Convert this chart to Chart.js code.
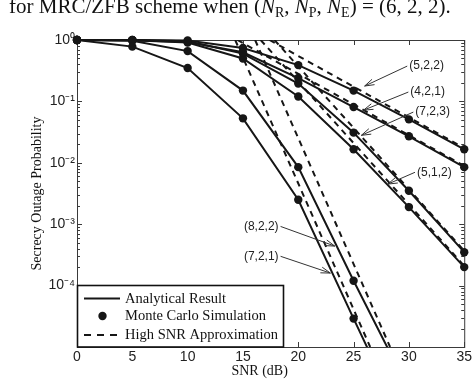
<!DOCTYPE html>
<html>
<head>
<meta charset="utf-8">
<script src="https://cdn.jsdelivr.net/npm/chart.js@4.4.0/dist/chart.umd.min.js"></script>
<style>
  html, body { margin: 0; padding: 0; background: #fff; }
</style>
</head>
<body>
<canvas id="myChart" width="474" height="381"></canvas>
<script>
// SNR (dB)
const snrDb = [0, 5, 10, 15, 20, 25, 30, 35];

// 해석 결과 (몬테카를로 점도 같은 값), (N_R, N_P, N_E) 별
const p721 = [1, 0.78, 0.35, 0.053, 0.0025, 2.9e-5, 3.6e-7, 4e-9];
const p822 = [1, 0.97, 0.66, 0.15, 0.0085, 1.2e-4, 2e-6, 3e-8];
const p421 = [1, 0.99, 0.93, 0.63, 0.24, 0.081, 0.027, 0.0085];
const p522 = [1, 1, 0.98, 0.74, 0.39, 0.15, 0.051, 0.0166];
const p512 = [1, 0.99, 0.91, 0.50, 0.12, 0.0166, 0.0019, 2.0e-4];
const p723 = [1, 1, 0.95, 0.60, 0.195, 0.031, 0.0035, 3.5e-4];

// 고 SNR 근사 (양 끝점 [SNR, P])
const a721 = [[14.3, 1], [26.5, 1e-5]];
const a822 = [[16.1, 1], [28.3, 1e-5]];
const a421 = [[14.5, 1], [35, 0.0089]];
const a522 = [[17.4, 1], [35, 0.0174]];
const a512 = [[16.6, 1], [35, 2.1e-4]];
const a723 = [[17.85, 1], [35, 3.7e-4]];

const yTickLabels = ['10⁰', '10⁻¹', '10⁻²', '10⁻³', '10⁻⁴'];
const legendLabels = ['Analytical Result', 'Monte Carlo Simulation', 'High SNR Approximation'];

const yMin = 1e-5, yMax = 1;
const ink = '#161616';
const curves = [p721, p822, p421, p522, p512, p723];
const approx = [a721, a822, a421, a522, a512, a723];

// 곡선 라벨 (텍스트 기준점, 화살표 끝) - 데이터 좌표
const notes = [
  {text: '(5,2,2)', at: [29.85, 0.376], tip: [26.0, 0.178], right: true},
  {text: '(4,2,1)', at: [29.95, 0.142], tip: [25.9, 0.072], right: true},
  {text: '(7,2,3)', at: [30.4, 0.067], tip: [25.7, 0.028], right: true},
  {text: '(5,1,2)', at: [30.55, 0.0070], tip: [28.1, 0.0045], right: true},
  {text: '(8,2,2)', at: [18.4, 9.2e-4], tip: [23.3, 4.4e-4], right: false},
  {text: '(7,2,1)', at: [18.4, 3.0e-4], tip: [22.9, 1.6e-4], right: false}
];

const datasets = [];
curves.forEach(c => datasets.push({
  data: c.map((v, i) => ({x: snrDb[i], y: v >= yMin ? v : null})),
  showLine: false,
  pointRadius: 4.2,
  pointBackgroundColor: ink,
  pointBorderWidth: 0,
  clip: false
}));
curves.forEach(c => datasets.push({
  data: c.map((v, i) => ({x: snrDb[i], y: v})),
  borderColor: ink,
  borderWidth: 2,
  pointRadius: 0,
  tension: 0,
  clip: {left: 3, top: 3, right: 3, bottom: 0}
}));
approx.forEach(a => datasets.push({
  data: a.map(p => ({x: p[0], y: p[1]})),
  borderColor: ink,
  borderWidth: 2,
  borderDash: [6, 5],
  pointRadius: 0,
  clip: 0
}));

function arrow(ctx, x0, y0, x1, y1) {
  const ang = Math.atan2(y1 - y0, x1 - x0);
  ctx.beginPath();
  ctx.moveTo(x0, y0);
  ctx.lineTo(x1, y1);
  ctx.stroke();
  ctx.beginPath();
  ctx.moveTo(x1 - 10 * Math.cos(ang - 0.3), y1 - 10 * Math.sin(ang - 0.3));
  ctx.lineTo(x1, y1);
  ctx.lineTo(x1 - 10 * Math.cos(ang + 0.3), y1 - 10 * Math.sin(ang + 0.3));
  ctx.stroke();
}

const decor = {
  id: 'decor',
  beforeDatasetsDraw(chart) {
    const {ctx, chartArea: a, scales: {x, y}} = chart;
    ctx.save();
    ctx.strokeStyle = '#3a3a3a';
    ctx.lineWidth = 1;
    ctx.strokeRect(a.left + 0.5, a.top + 0.5, a.right - a.left, a.bottom - a.top);
    ctx.beginPath();
    snrDb.forEach(v => {
      const px = Math.round(x.getPixelForValue(v)) + 0.5;
      ctx.moveTo(px, a.bottom); ctx.lineTo(px, a.bottom - 5);
      ctx.moveTo(px, a.top); ctx.lineTo(px, a.top + 5);
    });
    for (let e = 0; e >= -5; e--) {
      for (let m = 1; m <= 9; m++) {
        const v = m * Math.pow(10, e);
        if (v < yMin * 0.999 || v > yMax * 1.001) continue;
        const py = Math.round(y.getPixelForValue(v)) + 0.5;
        const len = m === 1 ? 5 : 3;
        ctx.moveTo(a.left, py); ctx.lineTo(a.left + len, py);
        ctx.moveTo(a.right, py); ctx.lineTo(a.right - len, py);
      }
    }
    ctx.stroke();
    ctx.restore();
  },
  afterDatasetsDraw(chart) {
    const {ctx, chartArea: a, scales: {x, y}} = chart;
    ctx.save();
    // 곡선 라벨 + 화살표
    ctx.font = '12px "Liberation Sans"';
    ctx.fillStyle = '#222';
    ctx.strokeStyle = '#333';
    ctx.lineWidth = 1;
    ctx.textBaseline = 'middle';
    notes.forEach(n => {
      const tx = x.getPixelForValue(n.at[0]), ty = y.getPixelForValue(n.at[1]);
      const hx = x.getPixelForValue(n.tip[0]), hy = y.getPixelForValue(n.tip[1]);
      ctx.textAlign = n.right ? 'left' : 'right';
      ctx.fillText(n.text, tx + (n.right ? 2 : -2), ty);
      arrow(ctx, tx, ty, hx, hy);
    });

    // 범례
    const lx = a.left, lw = 206, lh = 62, ly = a.bottom - lh;
    ctx.fillStyle = '#fff';
    ctx.fillRect(lx, ly, lw, lh);
    ctx.strokeStyle = '#111';
    ctx.lineWidth = 1.6;
    ctx.strokeRect(lx + 0.5, ly + 0.5, lw, lh - 0.5);
    const rows = [ly + 13.5, ly + 31, ly + 50];
    ctx.strokeStyle = ink;
    ctx.lineWidth = 2;
    ctx.beginPath();
    ctx.moveTo(lx + 7, rows[0]); ctx.lineTo(lx + 43, rows[0]);
    ctx.stroke();
    ctx.fillStyle = ink;
    ctx.beginPath();
    ctx.arc(lx + 25.5, rows[1], 4.2, 0, Math.PI * 2);
    ctx.fill();
    ctx.setLineDash([7, 6]);
    ctx.beginPath();
    ctx.moveTo(lx + 7, rows[2]); ctx.lineTo(lx + 43, rows[2]);
    ctx.stroke();
    ctx.setLineDash([]);
    ctx.font = '14.5px "Liberation Serif"';
    ctx.fillStyle = '#111';
    ctx.textAlign = 'left';
    legendLabels.forEach((t, i) => ctx.fillText(t, lx + 48, rows[i] + 0.5));

    // 축 제목
    ctx.font = '14px "Liberation Serif"';
    ctx.textAlign = 'center';
    ctx.fillText('SNR (dB)', (a.left + a.right) / 2 - 11, a.bottom + 24);
    ctx.translate(37, (a.top + a.bottom) / 2);
    ctx.rotate(-Math.PI / 2);
    ctx.fillText('Secrecy Outage Probability', 0, 0);
    ctx.restore();

    // 상단 캡션 (위쪽이 잘린 채로 보임)
    ctx.save();
    ctx.fillStyle = '#111';
    ctx.textBaseline = 'alphabetic';
    ctx.textAlign = 'left';
    const parts = [
      ['for MRC/ZFB scheme when (', 'n'], ['N', 'i'], ['R', 's'], [', ', 'n'], ['N', 'i'], ['P', 's'],
      [', ', 'n'], ['N', 'i'], ['E', 's'], [') = (6, 2, 2).', 'n']
    ];
    let cx = 9;
    parts.forEach(([t, s]) => {
      ctx.font = s === 'i' ? 'italic 21px "Liberation Serif"' : s === 's' ? '14px "Liberation Serif"' : '21px "Liberation Serif"';
      ctx.fillText(t, cx, s === 's' ? 17 : 13);
      cx += ctx.measureText(t).width;
    });
    ctx.restore();
  }
};

const ctx = document.querySelector('#myChart');

new Chart(ctx, {
  type: 'line',
  data: {datasets: datasets},
  options: {
    responsive: false,
    animation: false,
    layout: {padding: {top: 40, right: 7, left: 0, bottom: 0}},
    plugins: {legend: {display: false}, tooltip: {enabled: false}},
    scales: {
      x: {
        type: 'linear',
        min: 0,
        max: 35,
        grid: {display: false, drawTicks: false},
        border: {display: false},
        ticks: {stepSize: 5, padding: 2, color: '#222', font: {family: 'Liberation Sans', size: 14}},
        afterFit: s => { s.height = 34; }
      },
      y: {
        type: 'logarithmic',
        min: yMin,
        max: yMax,
        grid: {display: false, drawTicks: false},
        border: {display: false},
        ticks: {
          autoSkip: false,
          padding: 2,
          color: '#222',
          font: {family: 'Liberation Sans', size: 14},
          callback: v => {
            const e = Math.log10(v);
            const r = Math.round(e);
            if (Math.abs(e - r) > 1e-6) return '';
            return yTickLabels[-r] || '';
          }
        },
        afterFit: s => { s.width = 77; }
      }
    }
  },
  plugins: [decor]
});
</script>
</body>
</html>
